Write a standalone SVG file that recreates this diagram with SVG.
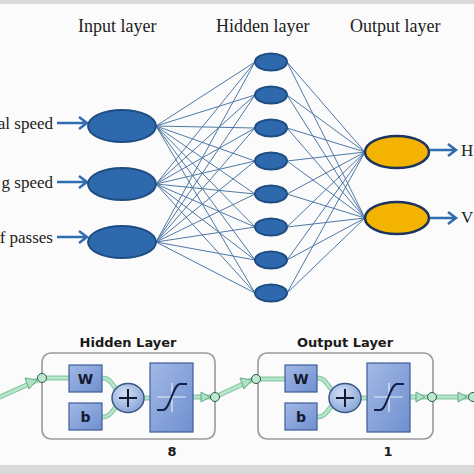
<svg xmlns="http://www.w3.org/2000/svg" width="474" height="474" viewBox="0 0 474 474">
<defs>
<style>
.ttl{font-family:"Liberation Serif",serif;font-size:18px;fill:#222}
.lbl{font-family:"Liberation Serif",serif;font-size:17px;fill:#222}
.bt{font-family:"DejaVu Sans",sans-serif;font-weight:bold;font-size:13px;fill:#1a1a1a}
.wb{font-family:"DejaVu Sans",sans-serif;font-weight:bold;font-size:14px;fill:#141a30;text-anchor:middle}
.nb{fill:#2e69ad;stroke:#1e4d82;stroke-width:2}
.no{fill:#f5b301;stroke:#1c355c;stroke-width:2.5}
.w{stroke:#4f78a6;stroke-width:1;fill:none}
.ba{stroke:#2f6cb0;stroke-width:2.5;fill:none}
.g{stroke:#8ccaa6;stroke-width:5;fill:none;stroke-linecap:round}
.gi{stroke:#b8e6cd;stroke-width:2.5;fill:none;stroke-linecap:round}
.sc{fill:#bfe8d1;stroke:#2c5b45;stroke-width:1}
.ah{fill:#aee0c4;stroke:#5fae86;stroke-width:1}
.box{fill:none;stroke:#9a9a9a;stroke-width:1.6}
.blk{fill:url(#bg);stroke:#3d5c98;stroke-width:1.2}
</style>
<linearGradient id="bg" x1="0" y1="0" x2="1" y2="1">
<stop offset="0" stop-color="#a3b9e6"/>
<stop offset="1" stop-color="#6f8fcf"/>
</linearGradient>
<radialGradient id="pg" cx="0.4" cy="0.35" r="0.7">
<stop offset="0" stop-color="#d3e0f5"/>
<stop offset="1" stop-color="#86a3d6"/>
</radialGradient>
</defs>
<rect width="474" height="474" fill="#fbfbfb"/>
<rect width="474" height="4" fill="#d9d9d9"/>
<rect y="465" width="474" height="9" fill="#d9d9d9"/>

<text class="ttl" x="78" y="32">Input layer</text>
<text class="ttl" x="216" y="32">Hidden layer</text>
<text class="ttl" x="350" y="32">Output layer</text>

<g id="connectors">
<g class="w">
<path d="M156,126 L255,62 M156,126 L255,95 M156,126 L255,128 M156,126 L255,161 M156,126 L255,194 M156,126 L255,227 M156,126 L255,260 M156,126 L255,293"/>
<path d="M156,184 L255,62 M156,184 L255,95 M156,184 L255,128 M156,184 L255,161 M156,184 L255,194 M156,184 L255,227 M156,184 L255,260 M156,184 L255,293"/>
<path d="M156,242 L255,62 M156,242 L255,95 M156,242 L255,128 M156,242 L255,161 M156,242 L255,194 M156,242 L255,227 M156,242 L255,260 M156,242 L255,293"/>
<path d="M287,62 L365,152 M287,95 L365,152 M287,128 L365,152 M287,161 L365,152 M287,194 L365,152 M287,227 L365,152 M287,260 L365,152 M287,293 L365,152"/>
<path d="M287,62 L365,218 M287,95 L365,218 M287,128 L365,218 M287,161 L365,218 M287,194 L365,218 M287,227 L365,218 M287,260 L365,218 M287,293 L365,218"/>
</g>
<g class="ba">
<path d="M57,123 L86,123 M79,117 L87,123 L79,129"/>
<path d="M57,182 L86,182 M79,176 L87,182 L79,188"/>
<path d="M57,237 L86,237 M79,231 L87,237 L79,243"/>
<path d="M430,150 L455,150 M448,144 L456,150 L448,156"/>
<path d="M430,218 L455,218 M448,212 L456,218 L448,224"/>
</g>
<g id="bottom-links">
<path class="g" d="M0,397 L40,379"/><path class="gi" d="M0,397 L40,379"/>
<path class="g" d="M42,378 L69,378"/><path class="gi" d="M42,378 L69,378"/>
<path class="g" d="M102,378 C110,378 111,383 116,389"/><path class="gi" d="M102,378 C110,378 111,383 116,389"/>
<path class="g" d="M102,417 C110,417 111,412 116,407"/><path class="gi" d="M102,417 C110,417 111,412 116,407"/>
<path class="g" d="M144,398 L150,398"/><path class="gi" d="M144,398 L150,398"/>
<path class="g" d="M193,397 L215,397"/><path class="gi" d="M193,397 L215,397"/>
<path class="g" d="M215,397 L254,379"/><path class="gi" d="M215,397 L254,379"/>
<path class="g" d="M256,379 L285,379"/><path class="gi" d="M256,379 L285,379"/>
<path class="g" d="M317,378 C325,378 326,383 331,389"/><path class="gi" d="M317,378 C325,378 326,383 331,389"/>
<path class="g" d="M317,417 C325,417 326,412 331,407"/><path class="gi" d="M317,417 C325,417 326,412 331,407"/>
<path class="g" d="M361,398 L367,398"/><path class="gi" d="M361,398 L367,398"/>
<path class="g" d="M410,397 L474,397"/><path class="gi" d="M410,397 L474,397"/>
<path class="ah" d="M25,378 L37,380 L29,389 Z"/>
<path class="ah" d="M240,378 L252,380 L244,389 Z"/>
<path class="ah" d="M201,392 L210,397 L201,402 Z"/>
<path class="ah" d="M416,392 L425,397 L416,402 Z"/>
<path class="ah" d="M458,392 L467,397 L458,402 Z"/>
</g>
</g>

<g id="input-1"><text class="lbl" x="53" y="129" text-anchor="end">al speed</text><ellipse class="nb" cx="122" cy="126" rx="34" ry="16"/></g>
<g id="input-2"><text class="lbl" x="53" y="188" text-anchor="end">g speed</text><ellipse class="nb" cx="122" cy="184" rx="34" ry="16"/></g>
<g id="input-3"><text class="lbl" x="53" y="243" text-anchor="end">f passes</text><ellipse class="nb" cx="122" cy="242" rx="34" ry="16"/></g>

<g id="hidden-1"><ellipse class="nb" cx="271" cy="62" rx="16" ry="8.5"/></g>
<g id="hidden-2"><ellipse class="nb" cx="271" cy="95" rx="16" ry="8.5"/></g>
<g id="hidden-3"><ellipse class="nb" cx="271" cy="128" rx="16" ry="8.5"/></g>
<g id="hidden-4"><ellipse class="nb" cx="271" cy="161" rx="16" ry="8.5"/></g>
<g id="hidden-5"><ellipse class="nb" cx="271" cy="194" rx="16" ry="8.5"/></g>
<g id="hidden-6"><ellipse class="nb" cx="271" cy="227" rx="16" ry="8.5"/></g>
<g id="hidden-7"><ellipse class="nb" cx="271" cy="260" rx="16" ry="8.5"/></g>
<g id="hidden-8"><ellipse class="nb" cx="271" cy="293" rx="16" ry="8.5"/></g>

<g id="output-1"><ellipse class="no" cx="397" cy="152" rx="32" ry="16"/><text class="lbl" x="461" y="156">H</text></g>
<g id="output-2"><ellipse class="no" cx="397" cy="218" rx="32" ry="16"/><text class="lbl" x="461" y="223">V</text></g>

<g id="hidden-layer-block">
<text class="bt" x="128" y="347" text-anchor="middle">Hidden Layer</text>
<rect class="box" x="42" y="353" width="173" height="86" rx="9"/>
<rect class="blk" x="69" y="365" width="33" height="27"/>
<text class="wb" x="85.5" y="384">W</text>
<rect class="blk" x="69" y="403" width="33" height="27"/>
<text class="wb" x="85.5" y="422">b</text>
<ellipse cx="128" cy="398" rx="16" ry="14.5" fill="url(#pg)" stroke="#3a5684" stroke-width="1.5"/>
<path d="M128,389 V407 M119,398 H137" stroke="#141a30" stroke-width="2" fill="none"/>
<rect class="blk" x="150" y="363" width="43" height="69"/>
<path d="M157,397 H186 M172,383 V412" stroke="#e6ecf8" stroke-width="1.2" fill="none"/>
<path d="M157,410 L163,410 C170,410 173,384 180,384 L187,384" stroke="#12204a" stroke-width="2" fill="none"/>
<circle class="sc" cx="42" cy="378" r="4.5"/>
<circle class="sc" cx="215" cy="397" r="4.5"/>
<text class="bt" x="172" y="456" text-anchor="middle">8</text>
</g>

<g id="output-layer-block">
<text class="bt" x="345" y="347" text-anchor="middle">Output Layer</text>
<rect class="box" x="258" y="353" width="175" height="86" rx="9"/>
<rect class="blk" x="285" y="365" width="32" height="27"/>
<text class="wb" x="301" y="384">W</text>
<rect class="blk" x="285" y="403" width="32" height="27"/>
<text class="wb" x="301" y="422">b</text>
<ellipse cx="345" cy="398" rx="16" ry="14.5" fill="url(#pg)" stroke="#3a5684" stroke-width="1.5"/>
<path d="M345,389 V407 M336,398 H354" stroke="#141a30" stroke-width="2" fill="none"/>
<rect class="blk" x="367" y="363" width="43" height="69"/>
<path d="M374,397 H403 M389,383 V412" stroke="#e6ecf8" stroke-width="1.2" fill="none"/>
<path d="M374,410 L380,410 C387,410 390,384 397,384 L404,384" stroke="#12204a" stroke-width="2" fill="none"/>
<circle class="sc" cx="256" cy="379" r="4.5"/>
<circle class="sc" cx="432" cy="397" r="4.5"/>
<circle class="sc" cx="473" cy="397" r="4.5"/>
<text class="bt" x="388" y="456" text-anchor="middle">1</text>
</g>
</svg>
